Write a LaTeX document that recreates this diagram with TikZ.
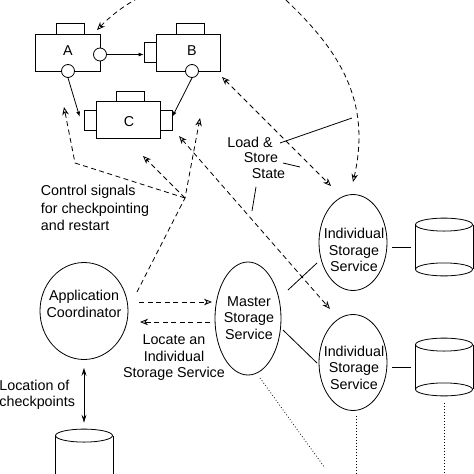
\documentclass[tikz,border=0pt]{standalone}
\usepackage{fontspec}
\setmainfont{Liberation Sans}
\usetikzlibrary{arrows.meta,shapes.geometric,calc}
\begin{document}
\begin{tikzpicture}[x=1pt,y=-1pt,line width=0.8pt,
  every node/.style={font=\fontsize{14.3}{16.5}\selectfont,inner sep=0pt},
  ell/.style={draw,ellipse,inner sep=0pt},
  box/.style={draw,rectangle,inner sep=0pt},
  portc/.style={draw,circle,minimum size=13pt,inner sep=0pt,fill=white},
  dline/.style={dash pattern=on 5pt off 3.5pt},
  dotline/.style={dash pattern=on 0.8pt off 2.2pt},
  dtip/.style={-{Stealth[open,length=8pt,width=6.5pt,inset=2.5pt]}},
  dboth/.style={{Stealth[open,length=8pt,width=6.5pt,inset=2.5pt]}-{Stealth[open,length=8pt,width=6.5pt,inset=2.5pt]}},
  sarrow/.style={-{Latex[length=5pt,width=4pt]}},
  vboth/.style={{Stealth[length=8pt,width=5pt,inset=3pt]}-{Stealth[length=8pt,width=5pt,inset=3pt]}}
]
\useasboundingbox (0,0) rectangle (474,474);
\clip (0,0) rectangle (474,474);
\fill[white] (0,0) rectangle (474,474);

% ---------- components A, B, C ----------
\node[box,minimum width=65pt,minimum height=37pt] (A) at (67.5,52.5) {};
\node[box,minimum width=28pt,minimum height=11pt] (At) at (70,28.5) {};
\node (Al) at (68,51) {A};
\node[portc] (Ar) at (100,54.5) {};
\node[portc] (Ab) at (68,71) {};

\node[box,minimum width=64pt,minimum height=37pt] (B) at (188,52.5) {};
\node[box,minimum width=28pt,minimum height=11pt] (Bt) at (190,28.5) {};
\node (Bl) at (192,51) {B};
\node[box,minimum width=12pt,minimum height=20pt] (Bp) at (150,52.5) {};
\node[portc] (Bb) at (192,71) {};

\node[box,minimum width=64pt,minimum height=37pt] (C) at (128,120) {};
\node[box,minimum width=28pt,minimum height=10.5pt] (Ct) at (130,96.25) {};
\node (Cl) at (129,122) {C};
\node[box,minimum width=12pt,minimum height=20.5pt] (Cpl) at (90,120.25) {};
\node[box,minimum width=12pt,minimum height=20.5pt] (Cpr) at (166,120.25) {};

\draw[sarrow] (Ar.east) -- (Ar.east -| Bp.west);
\draw[sarrow] (Ab.south) -- ($(Cpl.north west)+(-4,7)$);
\draw[sarrow] (Bb.south) -- ($(Cpr.north east)+(0,7)$);

% ---------- services ----------
\node[ell,minimum width=88pt,minimum height=97pt] (ac) at (84,311) {};
\node[align=center] (act) at (84,304) {Application\\Coordinator};
\node[ell,minimum width=66pt,minimum height=113pt] (mss) at (248,318.5) {};
\node[align=center] (msst) at (249,318) {Master\\Storage\\Service};
\node[ell,minimum width=68pt,minimum height=96pt] (iss1) at (353,242.5) {};
\node[align=center] (iss1t) at (354,250) {Individual\\Storage\\Service};
\node[ell,minimum width=68pt,minimum height=96pt] (iss2) at (353,362.5) {};
\node[align=center] (iss2t) at (354,367.5) {Individual\\Storage\\Service};

% ---------- disks ----------
\node[minimum width=57pt,minimum height=44pt] (cyl1) at (444,247) {};
\node[minimum width=57pt,minimum height=44pt] (cyl2) at (444,367) {};
\node[minimum width=57pt,minimum height=60pt] (cyl3) at (84,466) {};
\foreach \c in {cyl1,cyl2}{
  \draw (\c.north) ellipse [x radius=28.5pt,y radius=6.5pt];
  \draw (\c.south) ellipse [x radius=28.5pt,y radius=6.5pt];
  \draw (\c.north west) -- (\c.south west);
  \draw (\c.north east) -- (\c.south east);
}
\draw (cyl3.north) ellipse [x radius=28.5pt,y radius=6.5pt];
\draw (cyl3.north west) -- (cyl3.south west);
\draw (cyl3.north east) -- (cyl3.south east);

\draw[shorten <=5pt,shorten >=4pt] (iss1.-8) -- (iss1.-8 -| cyl1.west);
\draw[shorten <=5pt,shorten >=4pt] (iss2.-8) -- (iss2.-8 -| cyl2.west);
\draw[vboth] ($(ac.south)+(0,8)$) -- ($(cyl3.north)+(0,-13)$);

% ---------- solid links master -> individual ----------
\coordinate (m1) at (288,290); \coordinate (i1) at (317,263);
\coordinate (m2) at (283,330); \coordinate (i2) at (317,363);
\draw (m1) -- (i1);
\draw (m2) -- (i2);

% ---------- dotted continuations ----------
\coordinate (d1a) at (260,378); \coordinate (d1b) at (325,468);
\draw[dotline] (d1a) -- (d1b);
\draw[dotline] ($(iss2.south)+(3,5)$) -- ($(iss2.south)+(3,70)$);
\draw[dotline] ($(cyl2.south)+(0,14)$) -- ($(cyl2.south)+(0,90)$);

% ---------- dashed state connections ----------
\coordinate (tA) at (97,30);
\coordinate (tS1) at (353,182);
\draw[dline,dboth] (tA) .. controls (150,-25) and (245,-42) .. (288,2)
  .. controls (338,50) and (372,100) .. (tS1);
\coordinate (bT) at (222,77); \coordinate (s1T) at (331,186);
\draw[dline,dboth] (bT) -- (s1T);
\coordinate (cT) at (179,136); \coordinate (s2T) at (330,309);
\draw[dline,dboth] (cT) -- (s2T);

% ---------- control signals ----------
\coordinate (cs0) at (137,292);
\coordinate (J) at (185,198);
\coordinate (cs1) at (200,118);
\coordinate (cs2) at (143,156);
\coordinate (jk) at (75,163);
\coordinate (cs3) at (64,107);
\draw[dline,dtip] (cs0) -- (J) -- (cs1);
\draw[dline,dtip] (J) -- (cs2);
\draw[dline,dtip] (J) -- (jk) -- (cs3);

% ---------- locate ----------
\coordinate (l1a) at (139,302); \coordinate (l1b) at (212,302);
\coordinate (l2a) at (210,322); \coordinate (l2b) at (140,322);
\draw[dline,dtip] (l1a) -- (l1b);
\draw[dline,dtip] (l2a) -- (l2b);

% ---------- labels ----------
\node[align=left,anchor=west,font=\fontsize{14.3}{17.5}\selectfont] (ctl) at (40.5,208) {Control signals\\for checkpointing\\and restart};
\node (ls1) at (250,142) {Load \&};
\node (ls2) at (261,158) {Store};
\node (ls3) at (268.5,174) {State};
\coordinate (p1) at (280,143); \coordinate (q1) at (352,118);
\coordinate (p2) at (283,163); \coordinate (q2) at (300,167);
\coordinate (p3) at (256,187); \coordinate (q3) at (252,211);
\draw (p1) -- (q1);
\draw (p2) -- (q2);
\draw (p3) -- (q3);
\node[align=center] (loc) at (174,358) {Locate an\\Individual\\Storage Service};
\node[align=left,anchor=west] (lcp) at (-1,395) {Location of\\checkpoints};
\end{tikzpicture}
\end{document}
